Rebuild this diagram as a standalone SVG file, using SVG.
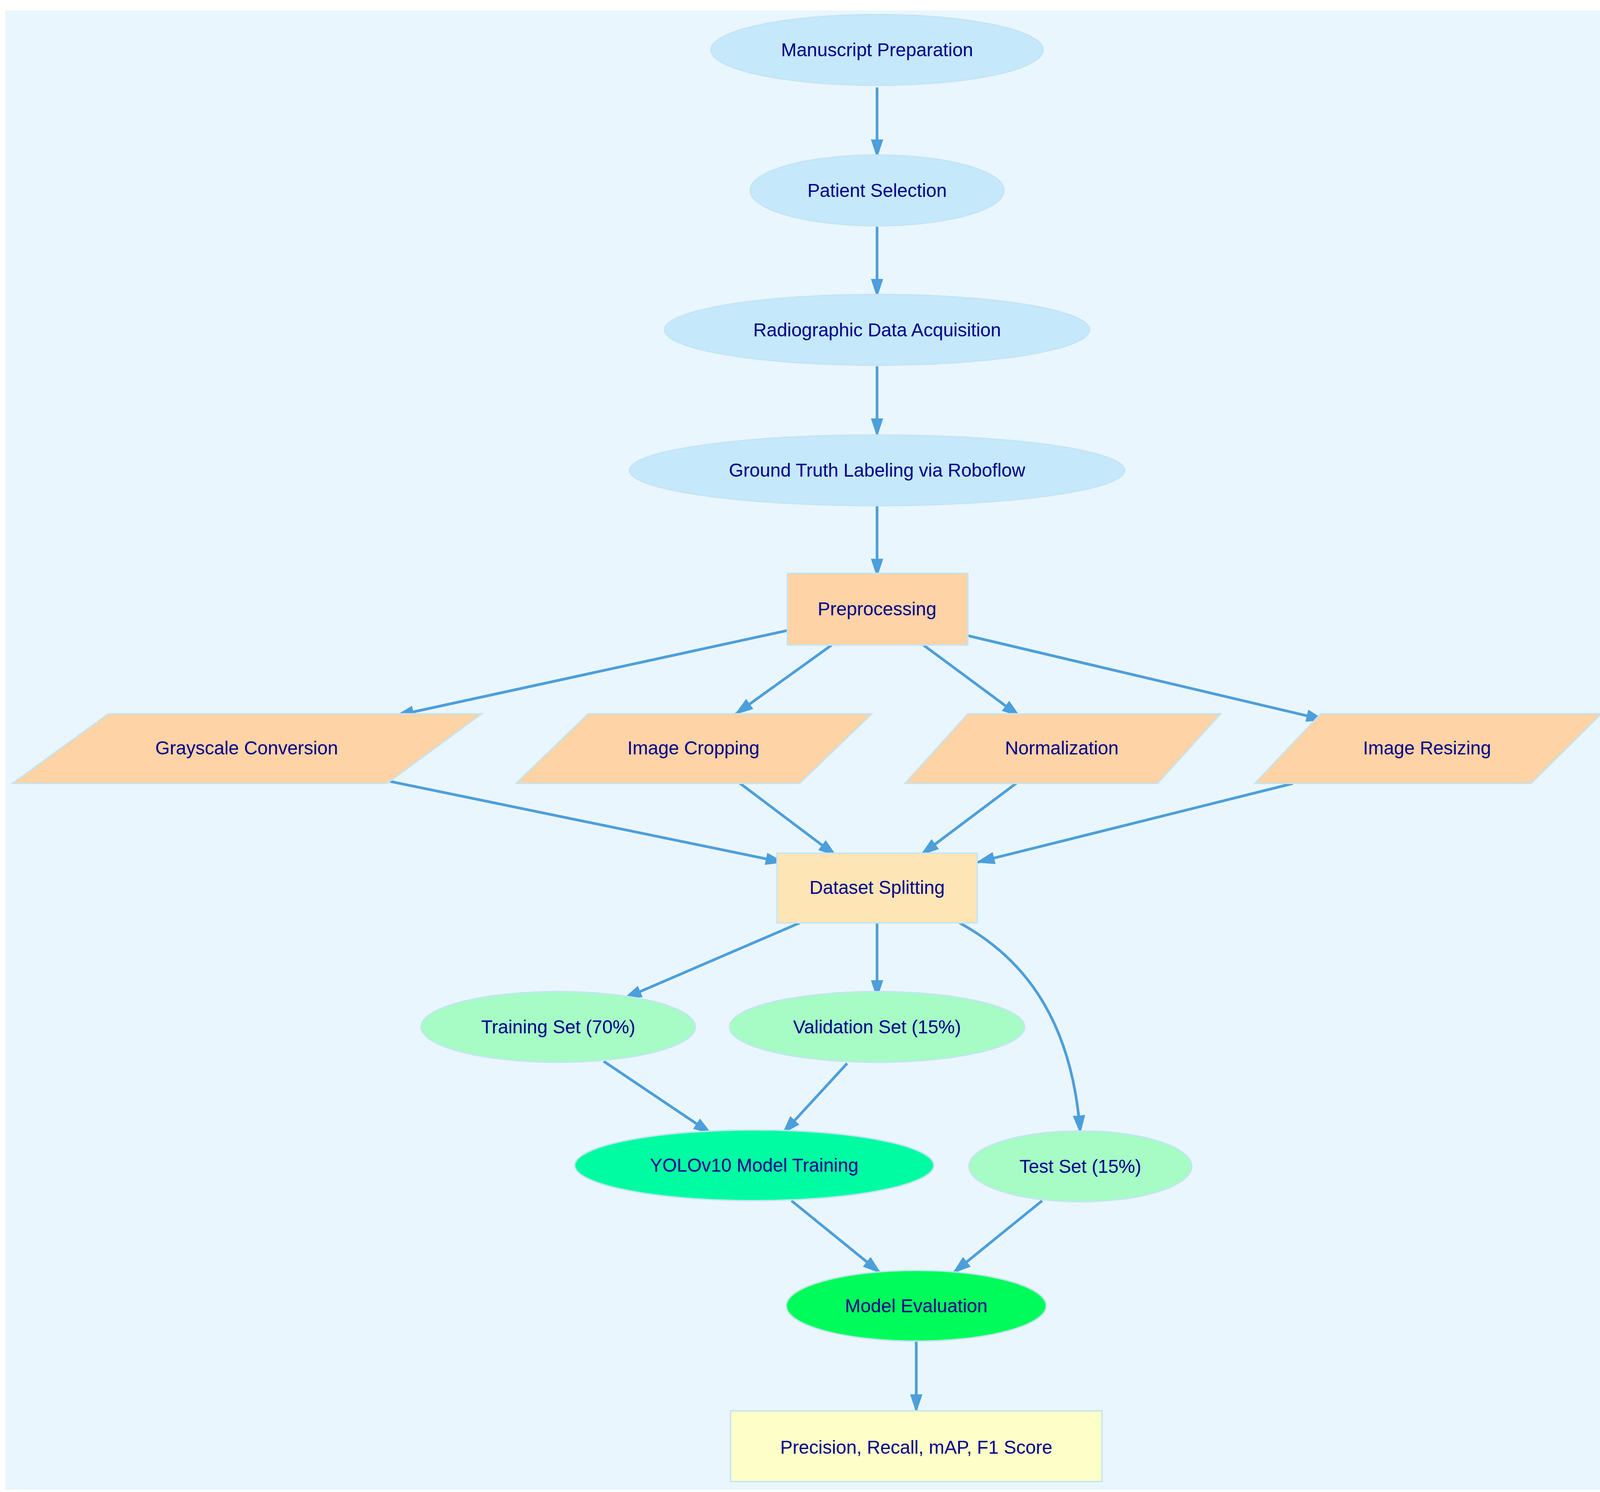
<svg xmlns="http://www.w3.org/2000/svg" width="4141" height="3819" viewBox="0 0 4141 3819">
<style>
text{font-family:"Liberation Sans",Arial,sans-serif;font-size:18px;fill:#00008b;text-anchor:middle;dominant-baseline:central}
.n{stroke:#c3e4f6;stroke-width:1.3}
.e{fill:none;stroke:#4c9fdb;stroke-width:2.6}
</style>
<defs><marker id="a" markerUnits="userSpaceOnUse" markerWidth="20" markerHeight="14" refX="18" refY="6" orient="auto"><path d="M0,0L18,6L0,12z" fill="#4c9fdb"/></marker></defs>
<rect width="4141" height="3819" fill="#fff"/>
<g transform="scale(2.6415,2.6632)">
<rect x="5" y="10" width="1555" height="1422" fill="#eaf6fd"/>
<g id="connectors">
<path class="e" marker-end="url(#a)" d="M850,84L850,152"/>
<path class="e" marker-end="url(#a)" d="M850,218L850,286"/>
<path class="e" marker-end="url(#a)" d="M850,352L850,420"/>
<path class="e" marker-end="url(#a)" d="M850,486L850,555"/>
<path class="e" marker-end="url(#a)" d="M763,606L383,688"/>
<path class="e" marker-end="url(#a)" d="M806,620L712,687"/>
<path class="e" marker-end="url(#a)" d="M895,620L989,689"/>
<path class="e" marker-end="url(#a)" d="M938,611L1284,692"/>
<path class="e" marker-end="url(#a)" d="M378,751L760,829"/>
<path class="e" marker-end="url(#a)" d="M716,752L811,823"/>
<path class="e" marker-end="url(#a)" d="M986,752L892,822"/>
<path class="e" marker-end="url(#a)" d="M1253,753L946,829"/>
<path class="e" marker-end="url(#a)" d="M775,887L604,960"/>
<path class="e" marker-end="url(#a)" d="M850,887L850,960"/>
<path class="e" marker-end="url(#a)" d="M930,887C1000,925 1040,990 1047,1090"/>
<path class="e" marker-end="url(#a)" d="M585,1020L690,1090"/>
<path class="e" marker-end="url(#a)" d="M821,1022L758,1090"/>
<path class="e" marker-end="url(#a)" d="M767,1154L854,1224"/>
<path class="e" marker-end="url(#a)" d="M1010,1154L923,1224"/>
<path class="e" marker-end="url(#a)" d="M888,1289L888,1358"/>
</g>
<g id="manuscript"><ellipse class="n" cx="850" cy="48" rx="161" ry="34" fill="#c6e8fb"/><text x="850" y="48">Manuscript Preparation</text></g>
<g id="patient"><ellipse class="n" cx="850" cy="183" rx="123" ry="34" fill="#c6e8fb"/><text x="850" y="183">Patient Selection</text></g>
<g id="radio"><ellipse class="n" cx="850" cy="317" rx="206" ry="34" fill="#c6e8fb"/><text x="850" y="317">Radiographic Data Acquisition</text></g>
<g id="ground"><ellipse class="n" cx="850" cy="452" rx="240" ry="34" fill="#c6e8fb"/><text x="850" y="452">Ground Truth Labeling via Roboflow</text></g>
<g id="preproc"><rect class="n" x="763" y="551" width="175" height="69" fill="#fed3a5"/><text x="850" y="585">Preprocessing</text></g>
<g id="gray"><polygon class="n" points="105,686 467,686 375,753 12,753" fill="#fed3a5"/><text x="239" y="719">Grayscale Conversion</text></g>
<g id="crop"><polygon class="n" points="570,686 845,686 775,753 500,753" fill="#fed3a5"/><text x="672" y="719">Image Cropping</text></g>
<g id="norm"><polygon class="n" points="938,686 1183,686 1122,753 877,753" fill="#fed3a5"/><text x="1029" y="719">Normalization</text></g>
<g id="resize"><polygon class="n" points="1280,686 1552,686 1484,753 1216,753" fill="#fed3a5"/><text x="1383" y="719">Image Resizing</text></g>
<g id="split"><rect class="n" x="753" y="820" width="194" height="67" fill="#fee5b5"/><text x="850" y="853">Dataset Splitting</text></g>
<g id="train"><ellipse class="n" cx="541" cy="987" rx="133" ry="34" fill="#a6fcc4"/><text x="541" y="987">Training Set (70%)</text></g>
<g id="val"><ellipse class="n" cx="850" cy="987" rx="143" ry="34" fill="#a6fcc4"/><text x="850" y="987">Validation Set (15%)</text></g>
<g id="yolo"><ellipse class="n" cx="731" cy="1120" rx="174" ry="34" fill="#00fca2"/><text x="731" y="1120">YOLOv10 Model Training</text></g>
<g id="test"><ellipse class="n" cx="1047" cy="1121" rx="108" ry="34" fill="#a6fcc4"/><text x="1047" y="1121">Test Set (15%)</text></g>
<g id="eval"><ellipse class="n" cx="888" cy="1255" rx="126" ry="34" fill="#00fc5a"/><text x="888" y="1255">Model Evaluation</text></g>
<g id="metrics"><rect class="n" x="708" y="1356" width="360" height="68" fill="#feffc8"/><text x="888" y="1391">Precision, Recall, mAP, F1 Score</text></g>
</g>
</svg>
